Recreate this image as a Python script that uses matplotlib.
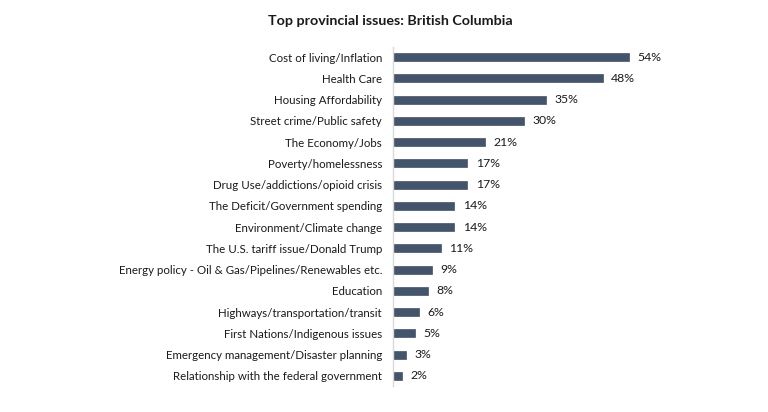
import matplotlib.pyplot as plt

issues = [
    "Cost of living/Inflation",
    "Health Care",
    "Housing Affordability",
    "Street crime/Public safety",
    "The Economy/Jobs",
    "Poverty/homelessness",
    "Drug Use/addictions/opioid crisis",
    "The Deficit/Government spending",
    "Environment/Climate change",
    "The U.S. tariff issue/Donald Trump",
    "Energy policy - Oil & Gas/Pipelines/Renewables etc.",
    "Education",
    "Highways/transportation/transit",
    "First Nations/Indigenous issues",
    "Emergency management/Disaster planning",
    "Relationship with the federal government",
]
pct = [54, 48, 35, 30, 21, 17, 17, 14, 14, 11, 9, 8, 6, 5, 3, 2]

plt.rcParams['font.family'] = ['Lato', 'DejaVu Sans']

fig = plt.figure(figsize=(7.68, 4.12), dpi=100)
ax = fig.add_axes([0.512, 0.062, 0.341, 0.825])

ypos = list(range(len(issues)))
ax.barh(ypos, pct, height=0.38, color="#44546A", edgecolor="#44546A", linewidth=0.5)
for y, v in zip(ypos, pct):
    ax.text(v + 1.9, y, f"{v}%", va="center", ha="left", fontsize=8.8, color="#1a1a1a")

ax.set_ylim(len(issues) - 0.5, -0.5)
ax.set_xlim(0, 60)
ax.set_yticks(ypos)
ax.set_yticklabels(issues, fontsize=8.3, color="#1a1a1a")
ax.tick_params(axis="y", length=0, pad=8)
ax.set_xticks([])
for s in ["top", "right", "bottom"]:
    ax.spines[s].set_visible(False)
ax.spines["left"].set_color("#d9d9d9")
ax.spines["left"].set_linewidth(1)

fig.text(0.508, 0.95, "Top provincial issues: British Columbia", ha="center", va="center",
         fontsize=10.3, fontweight="bold", color="#1a1a1a")

fig.savefig("out.png", dpi=100)
